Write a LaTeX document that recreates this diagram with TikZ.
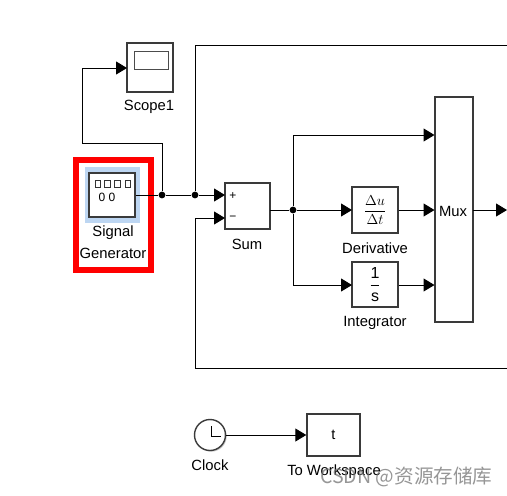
\documentclass[tikz,border=0pt]{standalone}
\usepackage{fontspec}
\setmainfont{Liberation Sans}
\newfontfamily\cjk{Noto Sans CJK SC}
\usetikzlibrary{arrows.meta,shadows}
\definecolor{blockedge}{HTML}{3A3A3A}
\definecolor{hilite}{HTML}{BDD6F2}
\tikzset{
  block/.style={draw=blockedge,line width=1.4pt,fill=white,inner sep=0pt,
    drop shadow={shadow xshift=1.2pt,shadow yshift=-1.2pt,fill=black!35,opacity=.6},
    font=\fontsize{14.5}{17}\selectfont},
  lbl/.style={inner sep=0pt,font=\fontsize{14.8}{17}\selectfont,align=center},
  conn/.style={line width=1pt,black},
  sig/.style={conn,-{Triangle[length=11pt,width=13pt]},shorten >=0pt},
  junction/.style={circle,fill=black,inner sep=0pt,minimum size=6.8pt},
  small/.style={inner sep=0pt,font=\fontsize{12}{13}\selectfont},
}
\begin{document}
\begin{tikzpicture}[x=1pt,y=-1pt]
\useasboundingbox (0,0) rectangle (507,496);
% red frame and highlight
\path[fill=hilite] (85,167) rectangle (140,223);
\draw[red,line width=5.6pt] (75.8,159.8) rectangle (151.2,270.2);
% blocks
\node[block,minimum width=46pt,minimum height=49pt] (scope) at (150,67.5) {};
\draw[draw=black!70,line width=1pt,fill=white] (134,51) rectangle (168,69);
\node[block,minimum width=46pt,minimum height=44pt] (sg) at (112,195) {};
\foreach \a/\b in {95/100,104/110,114/120,125/130}
  \draw[line width=1pt,black!80] (\a,180) rectangle (\b,187);
\node[small] (zeroa) at (102,197) {0};
\node[small] (zerob) at (112,197) {0};
\node[block,minimum width=45pt,minimum height=46pt] (sum) at (247.5,206) {};
\node[small] (plus) at (233,196) {+};
\node[small] (minus) at (233,218) {−};
\node[block,minimum width=46pt,minimum height=46pt,font=\fontsize{13.5}{16}\selectfont] (der) at (375,210) {$\displaystyle\frac{\Delta u}{\Delta t}$};
\node[block,minimum width=46pt,minimum height=45pt,font=\fontsize{16}{18}\selectfont] (int) at (375,284.5) {$\displaystyle\frac{\hbox{1}}{\hbox{s}}$};
\node[block,minimum width=38pt,minimum height=225pt] (mux) at (454,209.5) {};
\node[lbl] (lmux) at (453,211) {Mux};
\node[block,circle,minimum size=31pt] (clock) at (210,435) {};
\draw[line width=.9pt,black] (211,426) -- (211,436) -- (221,436);
\node[block,minimum width=53pt,minimum height=42pt] (tows) at (333.5,435) {t};
% labels
\node[lbl] (lscope) at (149,107) {Scope1};
\node[lbl] (lsg1) at (113,233) {Signal};
\node[lbl] (lsg2) at (113,253) {Generator};
\node[lbl] (lsum) at (247,244) {Sum};
\node[lbl] (lder) at (375,248) {Derivative};
\node[lbl] (lint) at (375,323) {Integrator};
\node[lbl] (lclock) at (210,465) {Clock};
\node[lbl] (ltows) at (334,471.5) {To Workspace};
% ports
\coordinate (sumP) at (225,195);
\coordinate (sumM) at (225,218);
\coordinate (sumO) at (270,210);
\coordinate (mux1) at (434.5,135);
\coordinate (mux2) at (434.5,210);
\coordinate (mux3) at (434.5,285);
\coordinate (muxO) at (473,210);
\coordinate (outtip) at (507,210);
\coordinate (loopT) at (507,45);
\coordinate (loopB) at (507,368);
\coordinate (scopeIn) at (127,68);
\coordinate (derI) at (352,210);
\coordinate (intI) at (352,285);
% junctions
\node[junction] (j1) at (162,195) {};
\node[junction] (j2) at (195,195) {};
\node[junction] (j3) at (293,210) {};
% connectors
\draw[conn] (sg.east) -- (j1);
\draw[conn] (j1) -- (j2);
\draw[sig] (j2) -- (sumP);
\draw[sig] (j1) |- (82,143) -- (82,68) -- (scopeIn);
\draw[conn] (j2) |- (loopT);
\draw[sig] (loopB) -| (195,218) -- (sumM);
\draw[conn] (sumO) -- (j3);
\draw[sig] (j3) -- (derI);
\draw[sig] (j3) |- (mux1);
\draw[sig] (j3) |- (intI);
\draw[sig] (der.east) -- (mux2);
\draw[sig] (int.east |- mux3) -- (mux3);
\draw[sig] (muxO) -- (outtip);
\draw[sig] (clock.east) -- (tows.west);
% watermark
\node[inner sep=0pt,anchor=west,text=black!55,opacity=.75,font=\cjk\fontsize{19.6}{21}\selectfont] (wm) at (320,477) {CSDN @资源存储库};
\end{tikzpicture}
\end{document}
